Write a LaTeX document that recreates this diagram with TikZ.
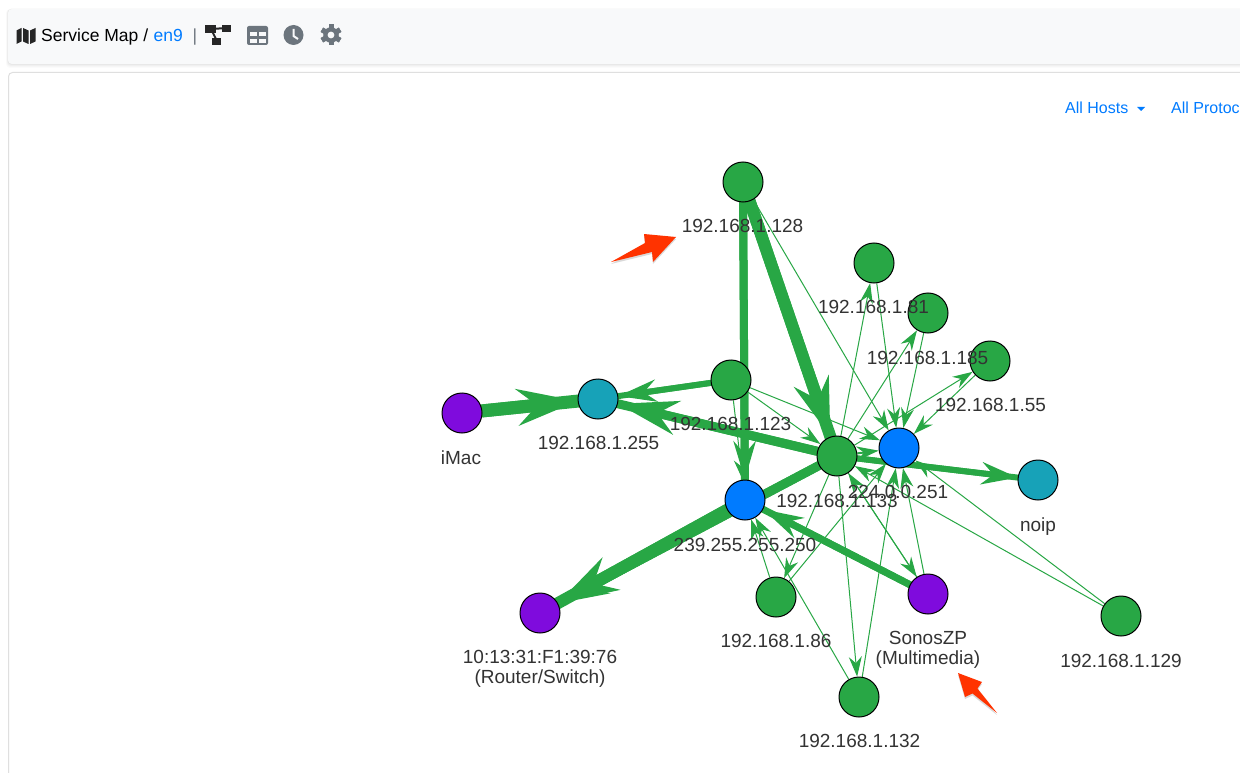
\documentclass[tikz,border=0pt]{standalone}
\usepackage{fontspec}
\usepackage{xcolor}
\setmainfont{Liberation Sans}
\usetikzlibrary{arrows.meta}
\definecolor{linkgreen}{HTML}{28A745}
\definecolor{hostblue}{HTML}{007BFF}
\definecolor{hostpurple}{HTML}{7F0BDD}
\definecolor{hostteal}{HTML}{17A2B8}
\definecolor{labelgray}{HTML}{333333}
\definecolor{iconfill}{HTML}{6C757D}
\definecolor{barfill}{HTML}{F8F9FA}
\definecolor{cardline}{HTML}{DFDFDF}
\definecolor{markred}{HTML}{FF3300}
\pgfdeclarelayer{cardlayer}
\pgfdeclarelayer{linklayer}
\pgfsetlayers{cardlayer,linklayer,main}
\tikzset{
    host/.style={circle, draw=black, line width=1pt, minimum size=40pt, inner sep=0pt, fill=#1},
    hostlabel/.style={font=\fontsize{19}{20}\selectfont, text=labelgray, inner sep=0pt, align=center},
    wire/.style={draw=linkgreen, line width=1pt, -{Stealth[length=20pt, width=13pt]}},
    flow/.style n args={3}{draw=linkgreen, line width=#1pt, -{Stealth[length=#2pt, width=#3pt]}},
    flowbar/.style={draw=linkgreen, line width=#1pt, shorten <=-4pt, shorten >=-4pt},
    bartext/.style={font=\fontsize{17.5}{20}\selectfont, text=black, inner sep=0pt, anchor=base west},
    linktext/.style={font=\fontsize{16}{20}\selectfont, text=hostblue, inner sep=0pt, anchor=base west},
    markarrow/.style={fill=markred, draw=none}
}
\newcommand{\flowlink}[5]{
    \draw[flow={#1}{#2}{#3}] (#4) -- (#5);
    \draw[flowbar=#1]        (#4) -- (#5);
}
\begin{document}
\begin{tikzpicture}[x=1pt, y=-1pt]
            \clip (0,0) rectangle (1240,773);

            \begin{pgfonlayer}{cardlayer}
                \fill[white] (0,0) rectangle (1240,773);
                \foreach \grow/\shade in {4/0.015, 3/0.02, 2/0.025, 1/0.03}
                    \fill[black, opacity=\shade, rounded corners=4pt] (8-\grow/2,9) rectangle (1260,64+\grow);
                \fill[barfill, rounded corners=4pt] (8,9) rectangle (1260,64);
                \draw[cardline, line width=1pt, rounded corners=4pt] (8.5,72.5) rectangle (1260,800);
            \end{pgfonlayer}

            \node (title)  [bartext] at (41,42)    {Service Map /};
            \node (iface)  [bartext, text=hostblue] at (153.5,42) {en9};
            \node (sep)    [bartext, text=iconfill] at (192.5,42) {|};
            \node (hosts)  [linktext] at (1065,114)  {All Hosts};
            \node (protos) [linktext] at (1171,114)  {All Protoc};
            \fill[hostblue] (1137,107) -- (1145,107) -- (1141,111) -- cycle;

            \fill[black!85] (16.5,30.5) -- (21.5,28) -- (21.5,41.5) -- (16.5,44) -- cycle;
            \fill[black!85] (23,28) -- (28.5,30.5) -- (28.5,44) -- (23,41.5) -- cycle;
            \fill[black!85] (30,30.5) -- (35.5,28) -- (35.5,41.5) -- (30,44) -- cycle;

            \draw[black!85, line width=2pt] (211,29) -- (227,28) (211,29) -- (217,41);
            \fill[black!85] (205,25) rectangle (216,33);
            \fill[black!85] (222,25) rectangle (231,32);
            \fill[black!85] (212,38) rectangle (221,45);

            \fill[iconfill, rounded corners=2pt] (247,26) rectangle (268,45);
            \foreach \cx in {250,258.5}
                \foreach \cy in {32,39}
                    \fill[barfill] (\cx,\cy) rectangle ++(7,4);

            \fill[iconfill] (293.5,35) circle (10);
            \draw[barfill, line width=2pt] (293.5,29) -- (293.5,36) -- (298,39);

            \foreach \ang in {0,60,...,300}
                \fill[iconfill, rotate around={\ang:(331,35)}] (328.5,24.5) rectangle (333.5,45.5);
            \fill[iconfill] (331,35) circle (7.8);
            \fill[barfill] (331,35) circle (3.4);

            \node (n128)   [host=linkgreen]  at (743,182) {};
            \node (n81)    [host=linkgreen]  at (874,263) {};
            \node (n185)   [host=linkgreen]  at (928,313) {};
            \node (n55)    [host=linkgreen]  at (990,361) {};
            \node (n123)   [host=linkgreen]  at (731,380) {};
            \node (n255)   [host=hostteal]   at (598,399) {};
            \node (imac)   [host=hostpurple] at (462,413) {};
            \node (n133)   [host=linkgreen]  at (837,456) {};
            \node (n251)   [host=hostblue]   at (899,448) {};
            \node (noip)   [host=hostteal]   at (1038,480) {};
            \node (n250)   [host=hostblue]   at (745,500) {};
            \node (router) [host=hostpurple] at (540,613) {};
            \node (n86)    [host=linkgreen]  at (776,597) {};
            \node (sonos)  [host=hostpurple] at (928,594) {};
            \node (n129)   [host=linkgreen]  at (1121,616) {};
            \node (n132)   [host=linkgreen]  at (859,697) {};

            \node (l128)    [hostlabel] at (742.5,226)  {192.168.1.128};
            \node (l81)     [hostlabel] at (873.5,307)  {192.168.1.81};
            \node (l185)    [hostlabel] at (927.5,358)  {192.168.1.185};
            \node (l55)     [hostlabel] at (990.5,405)  {192.168.1.55};
            \node (l123)    [hostlabel] at (730.5,424)  {192.168.1.123};
            \node (l255)    [hostlabel] at (598.5,443)  {192.168.1.255};
            \node (limac)   [hostlabel] at (461,457.5)  {iMac};
            \node (l133)    [hostlabel] at (837,501)  {192.168.1.133};
            \node (l251)    [hostlabel] at (898,492)  {224.0.0.251};
            \node (lnoip)   [hostlabel] at (1038,526.5) {noip};
            \node (l250)    [hostlabel] at (745,545)  {239.255.255.250};
            \node (lrouter) [hostlabel] at (540,669)  {10:13:31:F1:39:76\\(Router/Switch)};
            \node (l86)     [hostlabel] at (776,641)  {192.168.1.86};
            \node (lsonos)  [hostlabel] at (928,650)  {SonosZP\\(Multimedia)};
            \node (l129)    [hostlabel] at (1121,660.5) {192.168.1.129};
            \node (l132)    [hostlabel] at (859.5,741)  {192.168.1.132};

            \begin{pgfonlayer}{linklayer}
                \flowlink{13}{60}{36}{imac}{n255}
                \flowlink{6}{38}{22}{n123}{n255}
                \flowlink{9}{60}{34}{n133}{n255}
                \flowlink{8}{38}{22}{n128}{n250}
                \flowlink{12}{58}{36}{n128}{n133}
                \flowlink{9}{50}{30}{n133}{router}
                \flowlink{12}{60}{36}{n250}{router}
                \flowlink{6}{36}{22}{n133}{noip}
                \flowlink{7}{40}{22}{sonos}{n250}
                \draw[flow={2}{22}{14}] (n133) -- (n251);
                \draw[wire] (n128)  -- (n251);
                \draw[wire] (n123)  -- (n133);
                \draw[wire] (n123)  -- (n251);
                \draw[wire] (n123)  -- (n250);
                \draw[wire] (n133)  -- (n81);
                \draw[wire] (n81)   -- (n251);
                \draw[wire] (n133)  -- (n185);
                \draw[wire] (n185)  -- (n251);
                \draw[wire] (n133)  -- (n55);
                \draw[wire] (n55)   -- (n251);
                \draw[wire] (n129)  -- (n133);
                \draw[wire] (n129)  -- (n251);
                \draw[wire] (n86)   -- (n250);
                \draw[wire] (n133)  -- (n86);
                \draw[wire] (n86)   -- (n251);
                \draw[wire] (n132)  -- (n250);
                \draw[wire] (n133)  -- (n132);
                \draw[wire] (n132)  -- (n251);
                \draw[wire] (sonos) -- (n251);
                \draw[wire] (n133)  -- (sonos);
                \draw[wire] (sonos) -- (n133);
            \end{pgfonlayer}

            \fill[black, opacity=0.15] (611,264) -- (645,245) -- (644,236) -- (676,239) -- (653,264) -- (652,254) -- cycle;
            \fill[markarrow] (611,262) -- (645,243) -- (644,234) -- (676,237) -- (653,262) -- (652,252) -- cycle;
            \fill[black, opacity=0.15] (997,715) -- (977.5,690.5) -- (982,684) -- (958,675) -- (965,699) -- (972.5,695.5) -- cycle;
            \fill[markarrow] (997,713) -- (977.5,688.5) -- (982,682) -- (958,673) -- (965,697) -- (972.5,693.5) -- cycle;
\end{tikzpicture}
\end{document}
